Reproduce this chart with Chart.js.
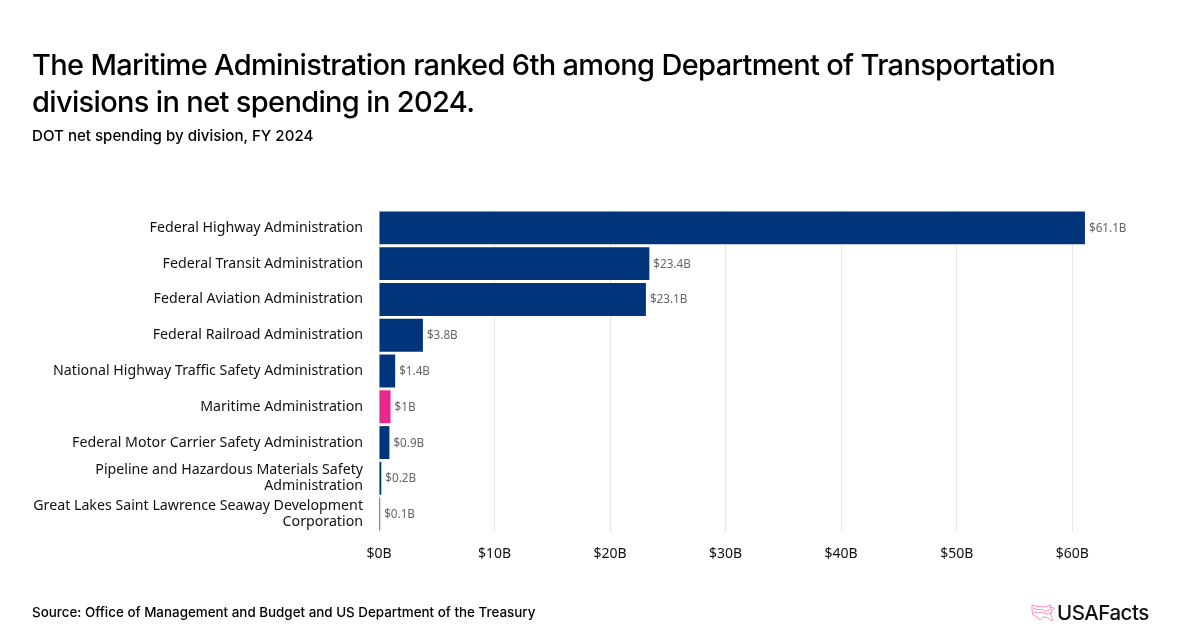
<!DOCTYPE html>
<html>
<head>
<meta charset="utf-8">
<script src="https://cdn.jsdelivr.net/npm/chart.js@4/dist/chart.umd.min.js"></script>
<style>
    html, body { margin: 0; padding: 0; background: #fff; }
    #page { position: relative; width: 1200px; height: 628px; overflow: hidden; color: #000; font-family: 'Inter', sans-serif; }
    #chart-box { position: absolute; left: 0; top: 0; width: 1200px; height: 628px; }
    h1 { position: absolute; left: 32px; top: 46px; margin: 0; font-size: 29px; line-height: 37px; font-weight: 500; letter-spacing: -0.66px; white-space: nowrap; }
    #subtitle { position: absolute; left: 32px; top: 126px; font-size: 15.1px; line-height: 20px; font-weight: 500; white-space: nowrap; }
    #source { position: absolute; left: 32px; top: 603px; font-size: 13.4px; line-height: 18px; font-weight: 500; white-space: nowrap; }
    #logo { position: absolute; left: 1031px; top: 603px; width: 24px; height: 19px; }
    #logo-text { position: absolute; left: 1057px; top: 600px; font-size: 20.5px; line-height: 26px; font-weight: 500; letter-spacing: -0.5px; color: #111; white-space: nowrap; }
</style>
</head>
<body>
<div id="page">
    <div id="chart-box"><canvas id="spendingChart"></canvas></div>
    <h1>The Maritime Administration ranked 6th among Department of Transportation<br>divisions in net spending in 2024.</h1>
    <div id="subtitle">DOT net spending by division, FY 2024</div>
    <div id="source">Source: Office of Management and Budget and US Department of the Treasury</div>
    <svg id="logo" viewBox="0 0 24 19" fill="none" stroke="#f07fbd" stroke-width="0.9">
        <path d="M1 2 L7 3.5 L14 4 L17 3 L20 2 L19 5 L22 4.5 L23 6 L20 9 L20 13 L22 17 L20 17.5 L17 14.5 L12 14 L9 17 L6 14 L2 12 L1 7 Z"/>
        <path d="M2 5 C7 8 10 5 14 8 C16 9 18 7 21 6"/>
        <path d="M3 9 C7 11 11 8 15 11 C17 12 18 10 20 10"/>
    </svg>
    <div id="logo-text">USAFacts</div>
</div>
<script>
    const categories = [
        'Federal Highway Administration',
        'Federal Transit Administration',
        'Federal Aviation Administration',
        'Federal Railroad Administration',
        'National Highway Traffic Safety Administration',
        'Maritime Administration',
        'Federal Motor Carrier Safety Administration',
        ['Pipeline and Hazardous Materials Safety', 'Administration'],
        ['Great Lakes Saint Lawrence Seaway Development', 'Corporation']
    ];
    const spending = [61.1, 23.4, 23.1, 3.8, 1.4, 1, 0.9, 0.2, 0.1];
    const barColors = ['#00347b', '#00347b', '#00347b', '#00347b', '#00347b', '#e6288f', '#00347b', '#00347b', '#00347b'];

    const labelFont = "'Noto Sans', sans-serif";

    // Value labels at the end of each bar
    const valueLabels = {
        id: 'valueLabels',
        afterDatasetsDraw(chart) {
            const ctx = chart.ctx;
            const meta = chart.getDatasetMeta(0);
            ctx.save();
            ctx.font = '11.7px ' + labelFont;
            ctx.fillStyle = '#666666';
            ctx.textBaseline = 'middle';
            meta.data.forEach((bar, i) => {
                ctx.fillText('$' + spending[i] + 'B', bar.x + 4, bar.y + 0.7);
            });
            ctx.restore();
        }
    };

    new Chart(document.getElementById('spendingChart').getContext('2d'), {
        type: 'bar',
        data: {
            labels: categories,
            datasets: [{
                data: spending,
                backgroundColor: barColors,
                barPercentage: 1,
                categoryPercentage: 0.92
            }]
        },
        options: {
            indexAxis: 'y',
            responsive: true,
            maintainAspectRatio: false,
            animation: false,
            layout: { padding: { top: 210, right: 70, bottom: 0, left: 0 } },
            plugins: { legend: { display: false }, tooltip: { enabled: false } },
            scales: {
                x: {
                    min: 0,
                    max: 65,
                    grid: { color: '#e8e8e8', drawTicks: false },
                    border: { display: false },
                    afterFit(scale) { scale.height = 96; },
                    ticks: {
                        stepSize: 10,
                        includeBounds: false,
                        padding: 14,
                        color: '#111111',
                        font: { family: labelFont, size: 14 },
                        maxRotation: 0,
                        callback: value => '$' + value + 'B'
                    }
                },
                y: {
                    grid: { display: false },
                    border: { display: false },
                    afterFit(scale) { scale.width = 379; },
                    ticks: {
                        autoSkip: false,
                        padding: 8,
                        color: '#111111',
                        font: { family: labelFont, size: 14.2, lineHeight: 1.12 }
                    }
                }
            }
        },
        plugins: [valueLabels]
    });
</script>
</body>
</html>
